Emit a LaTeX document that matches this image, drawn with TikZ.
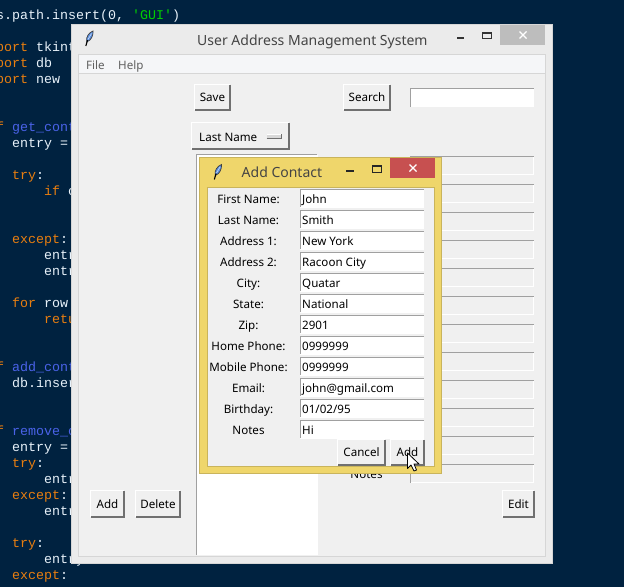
\documentclass[tikz,border=0pt]{standalone}
\usepackage{fontspec}
\setmainfont{Noto Sans}
\newfontfamily\uicodefont{Liberation Mono}
\newcommand\uismall{\fontsize{11.6}{14}\selectfont}
\newcommand\uititle{\fontsize{14}{18}\selectfont}
\newcommand\uicode{\uicodefont\fontsize{13.33}{16}\selectfont}
\definecolor{navy}{HTML}{002240}
\definecolor{winbg}{HTML}{F0F0F0}
\definecolor{frame}{HTML}{EBEBEB}
\definecolor{framedge}{HTML}{D6D6D6}
\definecolor{menubg}{HTML}{F5F6F8}
\definecolor{codeor}{HTML}{E87E10}
\definecolor{codebl}{HTML}{4A62E8}
\definecolor{codewh}{HTML}{E8F2FA}
\definecolor{codegr}{HTML}{00D000}
\definecolor{dlgyellow}{HTML}{EFD66B}
\definecolor{dlgedge}{HTML}{C9B45C}
\definecolor{closered}{HTML}{C75050}
\definecolor{closegray}{HTML}{BDBDBD}
\definecolor{entryline}{HTML}{A0A0A0}
\definecolor{btnshade}{HTML}{707070}
\definecolor{titleink}{HTML}{444444}
\definecolor{feather}{HTML}{5A8FE0}
\tikzset{
  codeline/.style={anchor=base west,inner sep=0pt,font=\uicode,text=codewh},
  uitext/.style={inner sep=0pt,font=\uismall,text=black},
  labeltext/.style={uitext,anchor=base},
  entrytext/.style={uitext,anchor=base west},
  titletext/.style={inner sep=0pt,font=\uititle,text=titleink,anchor=base west},
  menutext/.style={uitext,anchor=base west,text=black!62},
  btnlight/.style={draw=white,line width=1.2pt},
  btndark/.style={draw=btnshade,line width=1.5pt},
  entrydark/.style={draw=entryline,line width=1pt},
  entrypale/.style={draw=white,line width=1pt},
}
% name, x1, y1, x2, y2, text
\newcommand\uibtn[6]{%
  \node[fill=winbg,uitext,minimum width=#4pt-#2pt,minimum height=#5pt-#3pt] (#1) at ({(#2+#4)/2},{(#3+#5)/2}) {#6};
  \draw[btnlight] (#1.south west) -- (#1.north west) -- (#1.north east);
  \draw[btndark] (#1.north east) -- (#1.south east) -- (#1.south west);
}
% name, x1, y1, x2, y2, fill
\newcommand\uientry[6]{%
  \node[fill=#6,inner sep=0pt,minimum width=#4pt-#2pt,minimum height=#5pt-#3pt] (#1) at ({(#2+#4)/2},{(#3+#5)/2}) {};
  \draw[entrypale] (#1.south west) -- (#1.south east) -- (#1.north east);
  \draw[entrydark] (#1.south west) -- (#1.north west) -- (#1.north east);
}
% x, y of the top-left corner of the icon
\newcommand\uifeather[2]{%
  \begin{scope}[shift={(#1,#2)}]
    \fill[feather,draw=black!75,line width=.7pt] (1.6,11) .. controls (0.6,6) and (4,1.5) .. (8,0) .. controls (8.4,4) and (6.5,9.5) .. (1.6,11) -- cycle;
    \draw[black,line width=1.1pt] (0.8,15) -- (2.6,9);
    \draw[white!70!feather,line width=.6pt] (3,8.5) -- (6.5,2.5);
  \end{scope}
}
\begin{document}
\begin{tikzpicture}[x=1pt,y=-1pt]
\useasboundingbox (0,0) rectangle (624,587);
\fill[navy] (0,0) rectangle (624,587);
% code
\node[codeline] (c0) at (-20,19) {sys.path.insert(0, \textcolor{codegr}{'GUI'})};
\foreach \n/\y/\kw/\rest in {c1/51/import/ tkint,c2/67/import/ db,c3/83/import/ new}{
  \node[codeline] (\n) at (-20,\y) {\textcolor{codeor}{\kw}\rest};
}
\node[codeline] (c4) at (-20,131) {\textcolor{codeor}{def} \textcolor{codebl}{get\_cont}};
\node[codeline] (c5) at (12,147) {entry =};
\node[codeline] (c6) at (12,179) {\textcolor{codeor}{try}:};
\node[codeline] (c7) at (44,195) {\textcolor{codeor}{if} c};
\node[codeline] (c8) at (12,243) {\textcolor{codeor}{except}:};
\node[codeline] (c9) at (44,259) {entr};
\node[codeline] (c10) at (44,275) {entr};
\node[codeline] (c11) at (12,307) {\textcolor{codeor}{for} row};
\node[codeline] (c12) at (44,323) {\textcolor{codeor}{retu}};
\node[codeline] (c13) at (-20,371) {\textcolor{codeor}{def} \textcolor{codebl}{add\_cont}};
\node[codeline] (c14) at (12,387) {db.inser};
\node[codeline] (c15) at (-20,435) {\textcolor{codeor}{def} \textcolor{codebl}{remove\_c}};
\node[codeline] (c16) at (12,451) {entry =};
\node[codeline] (c17) at (12,467) {\textcolor{codeor}{try}:};
\node[codeline] (c18) at (44,483) {entr};
\node[codeline] (c19) at (12,499) {\textcolor{codeor}{except}:};
\node[codeline] (c20) at (44,515) {entr};
\node[codeline] (c21) at (12,547) {\textcolor{codeor}{try}:};
\node[codeline] (c22) at (44,563) {entry};
\node[codeline] (c23) at (12,579) {\textcolor{codeor}{except}:};
% main window
\draw[framedge,fill=frame] (71,24) rectangle (552,563);
\draw[framedge,fill=winbg] (78.5,54) rectangle (545,556);
\fill[menubg] (79,54.5) rectangle (544.5,73);
\draw[framedge] (79,73) -- (544.5,73);
\uifeather{85}{31}
\node[titletext] (wintitle) at (197,45) {User Address Management System};
\draw[black!80,line width=2pt] (457,38) -- (464,38);
\draw[black!80,line width=1pt] (482.5,32.5) rectangle (491.5,38.5);
\draw[black!80,line width=1.6pt] (482,33) -- (492,33);
\fill[closegray] (500,25) rectangle (545,45);
\draw[white,line width=1.4pt] (519.5,31.5) -- (526.5,38.5) (519.5,38.5) -- (526.5,31.5);
\node[menutext] (mfile) at (86,69) {File};
\node[menutext] (mhelp) at (118,69) {Help};
% toolbar
\uibtn{bsave}{195}{85}{230}{110}{Save}
\uibtn{bsearch}{344}{85}{390}{110}{Search}
\uientry{esearch}{410.5}{88.5}{533.5}{106.5}{white}
\node[fill=winbg,inner sep=0pt,minimum width=97pt,minimum height=26pt] (bsort) at (240.5,136) {};
\draw[btnlight] (bsort.south west) -- (bsort.north west) -- (bsort.north east);
\draw[btndark] (bsort.north east) -- (bsort.south east) -- (bsort.south west);
\node[entrytext] (lsort) at (199,141) {Last Name};
\fill[white!85!black] (266.5,134) rectangle (280.5,138);
\draw[white,line width=.8pt] (266.5,134.5) -- (280.5,134.5);
\draw[btnshade,line width=1pt] (266.5,138) -- (281,138) -- (281,134);
% list box
\fill[white] (197,154.5) rectangle (318,555);
\draw[entryline,line width=1pt] (196.5,555) -- (196.5,154.5) -- (317,154.5);
% right column
\foreach \i/\y in {1/156.5,2/184.5,3/212.5,4/240.5,5/268.5,6/296.5,7/324.5,8/352.5,9/380.5,10/408.5,11/436.5,12/464.5}{
  \pgfmathsetmacro{\yb}{\y+18}
  \uientry{r\i}{410.5}{\y}{533.5}{\yb}{winbg}
}
\node[labeltext] (rnotes) at (366.5,478) {Notes};
\uibtn{badd}{91}{491}{124}{517}{Add}
\uibtn{bdelete}{136}{491}{180}{517}{Delete}
\uibtn{bedit}{503}{491}{534}{517}{Edit}
% dialog
\fill[dlgyellow,draw=dlgedge,line width=1pt] (199.5,157.5) rectangle (441.5,473);
\fill[winbg,draw=dlgedge,line width=1pt] (207,187) rectangle (434.5,466);
\uifeather{213.5}{164.5}
\node[titletext] (dlgtitle) at (241.5,177.5) {Add Contact};
\draw[black!85,line width=2pt] (346,171) -- (354,171);
\draw[black!85,line width=1pt] (372.5,165.5) rectangle (381.5,172);
\draw[black!85,line width=1.6pt] (372,166) -- (382,166);
\fill[closered] (390,158) rectangle (435,178);
\draw[white,line width=1.4pt] (409.5,164.5) -- (416.5,171.5) (409.5,171.5) -- (416.5,164.5);
\foreach \i/\lab/\val [evaluate=\i as \yt using {189.5+21*(\i-1)}, evaluate=\i as \yc using {203+21*(\i-1)}] in {
  1/First Name:/John,2/Last Name:/Smith,3/Address 1:/New York,4/Address 2:/Racoon City,
  5/City:/Quatar,6/State:/National,7/Zip:/2901,8/Home Phone:/0999999,
  9/Mobile Phone:/0999999,10/Email:/john@gmail.com,11/Birthday:/{01/02/95},12/Notes/Hi}{
  \pgfmathsetmacro{\yb}{\yt+17.5}
  \uientry{d\i}{300.5}{\yt}{423.5}{\yb}{white}
  \node[labeltext] (dl\i) at (248.5,\yc) {\lab};
  \node[entrytext] (dv\i) at (302,\yc) {\val};
}
\uibtn{bcancel}{338}{440}{385}{465}{Cancel}
\uibtn{bdadd}{391}{440}{424}{465}{Add}
% cursor
\filldraw[fill=white,draw=black,line width=.8pt,line join=round] (407.5,453) -- (407.5,468.5) -- (411,465) -- (414,471) -- (416.5,470) -- (414,464) -- (419,464) -- cycle;
\end{tikzpicture}
\end{document}
